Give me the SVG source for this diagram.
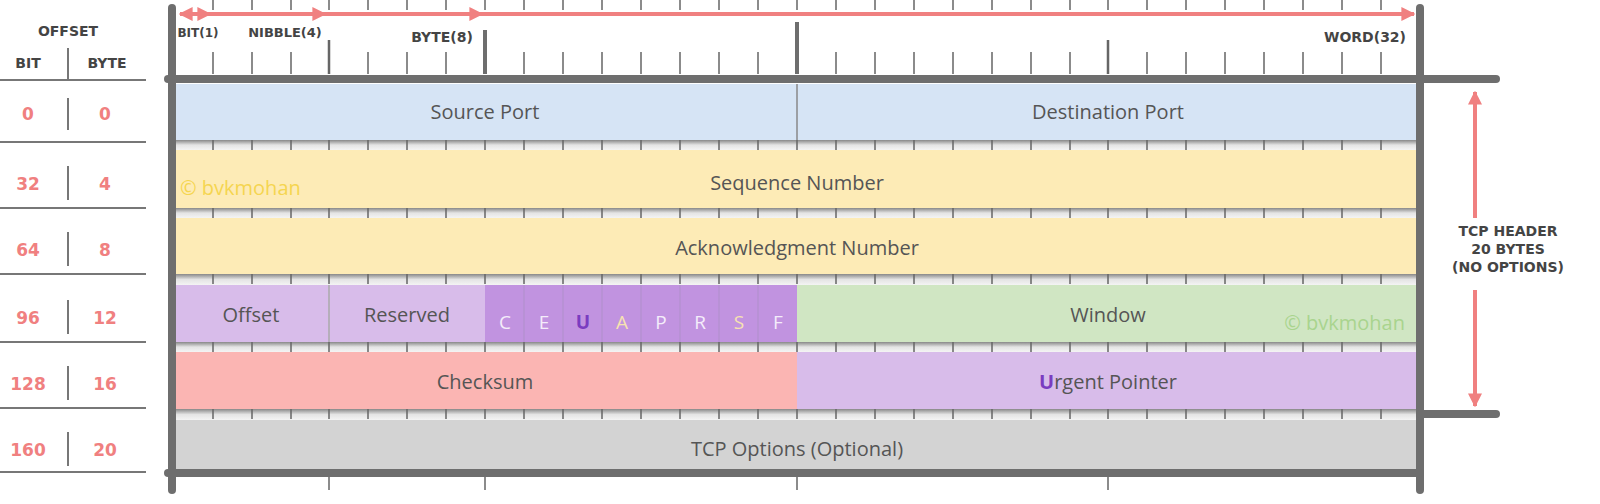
<svg xmlns="http://www.w3.org/2000/svg" width="1600" height="504" viewBox="0 0 1600 504">
<style>
.hd{font-family:"DejaVu Sans",sans-serif;font-weight:bold;fill:#444;font-size:14px;text-anchor:middle}
.num{font-family:"DejaVu Sans",sans-serif;font-weight:bold;fill:#f08080;font-size:17px;text-anchor:middle}
.lbl{font-family:"Open Sans","DejaVu Sans",sans-serif;fill:#555;font-size:20px;text-anchor:middle}
.flg{font-family:"Open Sans","DejaVu Sans",sans-serif;fill:#f4ecfa;font-size:19px;text-anchor:middle}
.wm{font-family:"Open Sans","DejaVu Sans",sans-serif;font-size:20px}
.bar{stroke:#6e6e6e;stroke-width:8;stroke-linecap:round}
.tbl{stroke:#777;stroke-width:2}
.tk{stroke:#666;stroke-width:1.5}
.pk{stroke:#f08080;stroke-width:4;fill:none}
</style>
<defs>
<linearGradient id="gap" x1="0" y1="0" x2="0" y2="1"><stop offset="0" stop-color="#888"/><stop offset="0.5" stop-color="#e4e4e4"/><stop offset="1" stop-color="#f4f4f4"/></linearGradient>
<marker id="ah" viewBox="0 0 10 10" refX="9" refY="5" markerWidth="3.5" markerHeight="3.5" orient="auto-start-reverse"><path d="M0,0L10,5L0,10z" fill="#f08080"/></marker>
</defs>
<rect width="1600" height="504" fill="#fff"/>
<g id="offset-table">
<text class="hd" x="68" y="36">OFFSET</text>
<text class="hd" x="28" y="68">BIT</text><text class="hd" x="107" y="68">BYTE</text>
<line class="tbl" x1="68" y1="48" x2="68" y2="80"/><line class="tbl" x1="0" y1="80" x2="146" y2="80"/>
<g>
<text class="num" x="28" y="120">0</text><text class="num" x="105" y="120">0</text>
<text class="num" x="28" y="190">32</text><text class="num" x="105" y="190">4</text>
<text class="num" x="28" y="256">64</text><text class="num" x="105" y="256">8</text>
<text class="num" x="28" y="324">96</text><text class="num" x="105" y="324">12</text>
<text class="num" x="28" y="390">128</text><text class="num" x="105" y="390">16</text>
<text class="num" x="28" y="456">160</text><text class="num" x="105" y="456">20</text>
</g>
<g class="tbl">
<line x1="68" y1="98" x2="68" y2="130"/><line x1="0" y1="142" x2="146" y2="142"/>
<line x1="68" y1="166" x2="68" y2="200"/><line x1="0" y1="208" x2="146" y2="208"/>
<line x1="68" y1="232" x2="68" y2="266"/><line x1="0" y1="274" x2="146" y2="274"/>
<line x1="68" y1="300" x2="68" y2="334"/><line x1="0" y1="342" x2="146" y2="342"/>
<line x1="68" y1="366" x2="68" y2="400"/><line x1="0" y1="408" x2="146" y2="408"/>
<line x1="68" y1="432" x2="68" y2="466"/><line x1="0" y1="472" x2="146" y2="472"/>
</g>
</g>
<g id="gaps">
<rect x="174" y="140" width="1244" height="10" fill="url(#gap)"/>
<rect x="174" y="208" width="1244" height="10" fill="url(#gap)"/>
<rect x="174" y="274" width="1244" height="11" fill="url(#gap)"/>
<rect x="174" y="342" width="1244" height="10" fill="url(#gap)"/>
<rect x="174" y="409" width="1244" height="11" fill="url(#gap)"/>
</g>
<g id="source-port"><rect x="174" y="84" width="623" height="56" fill="#d6e4f5"/><text class="lbl" x="485" y="119">Source Port</text></g>
<g id="destination-port"><rect x="797" y="84" width="621" height="56" fill="#d6e4f5"/><line x1="797" y1="84" x2="797" y2="140" stroke="#888" stroke-width="1.5"/><text class="lbl" x="1108" y="119">Destination Port</text></g>
<g id="sequence-number"><rect x="174" y="150" width="1244" height="58" fill="#fdebb6"/><text class="lbl" x="797" y="190">Sequence Number</text><text class="wm" x="180" y="195" fill="#f5d550">© bvkmohan</text></g>
<g id="ack-number"><rect x="174" y="218" width="1244" height="56" fill="#fdebb6"/><text class="lbl" x="797" y="255">Acknowledgment Number</text></g>
<g id="offset"><rect x="174" y="285" width="155" height="57" fill="#d8bcea"/><text class="lbl" x="251" y="322">Offset</text></g>
<g id="reserved"><rect x="329" y="285" width="156" height="57" fill="#d8bcea"/><line x1="329" y1="285" x2="329" y2="342" stroke="#aaa" stroke-width="1.5"/><text class="lbl" x="407" y="322">Reserved</text></g>
<g id="flags">
<rect x="485" y="285" width="312" height="57" fill="#c193e0"/>
<g stroke="#b590d2" stroke-width="1.5"><line x1="524" y1="285" x2="524" y2="342"/><line x1="563" y1="285" x2="563" y2="342"/><line x1="602" y1="285" x2="602" y2="342"/><line x1="641" y1="285" x2="641" y2="342"/><line x1="680" y1="285" x2="680" y2="342"/><line x1="719" y1="285" x2="719" y2="342"/><line x1="758" y1="285" x2="758" y2="342"/></g>
<text class="flg" x="505" y="329">C</text><text class="flg" x="544" y="329">E</text><text class="flg" x="583" y="329" style="fill:#7a3cc0;font-weight:bold">U</text><text class="flg" x="622" y="329" style="fill:#f7e2b0">A</text><text class="flg" x="661" y="329">P</text><text class="flg" x="700" y="329">R</text><text class="flg" x="739" y="329" style="fill:#f7e2b0">S</text><text class="flg" x="778" y="329">F</text>
</g>
<g id="window"><rect x="797" y="285" width="621" height="57" fill="#d0e6c3"/><text class="lbl" x="1108" y="322">Window</text><text class="wm" x="1405" y="330" fill="#a9d48e" text-anchor="end">© bvkmohan</text></g>
<g id="checksum"><rect x="174" y="352" width="623" height="57" fill="#fbb5b3"/><text class="lbl" x="485" y="389">Checksum</text></g>
<g id="urgent-pointer"><rect x="797" y="352" width="621" height="57" fill="#d8bcea"/><text class="lbl" x="1108" y="389"><tspan fill="#7a3cc0" font-weight="bold">U</tspan>rgent Pointer</text></g>
<g id="tcp-options"><rect x="174" y="420" width="1244" height="51" fill="#d3d3d3"/><text class="lbl" x="797" y="456">TCP Options (Optional)</text></g>
<g id="ticks" class="tk">
<path d="M213,52v22M252,52v22M291,52v22M368,52v22M407,52v22M446,52v22M524,52v22M563,52v22M602,52v22M641,52v22M680,52v22M719,52v22M758,52v22M836,52v22M875,52v22M914,52v22M953,52v22M992,52v22M1031,52v22M1070,52v22M1147,52v22M1186,52v22M1225,52v22M1264,52v22M1303,52v22M1342,52v22M1381,52v22"/>
<path d="M329,40v34M1108,40v34" stroke-width="2.5"/>
<path d="M485,30v44M797,22v52" stroke="#6e6e6e" stroke-width="4"/>
</g>
<g id="gap-ticks" stroke="#666" stroke-width="1.5">
<path id="gt" d="M213,0v10M252,0v10M291,0v10M329,0v10M368,0v10M407,0v10M446,0v10M485,0v10M524,0v10M563,0v10M602,0v10M641,0v10M680,0v10M719,0v10M758,0v10M797,0v10M836,0v10M875,0v10M914,0v10M953,0v10M992,0v10M1031,0v10M1070,0v10M1108,0v10M1147,0v10M1186,0v10M1225,0v10M1264,0v10M1303,0v10M1342,0v10M1381,0v10"/>
<use href="#gt" y="140"/><use href="#gt" y="208"/><use href="#gt" y="274"/><use href="#gt" y="342"/><use href="#gt" y="409"/>
<path d="M329,476v14M485,476v14M797,476v14M1108,476v14"/>
</g>
<g id="frame" class="bar">
<line x1="172" y1="8" x2="172" y2="490"/>
<line x1="1420" y1="8" x2="1420" y2="490"/>
<line x1="168" y1="79" x2="1496" y2="79"/>
<line x1="168" y1="473" x2="1420" y2="473"/>
<line x1="1420" y1="414" x2="1496" y2="414"/>
</g>
<g id="connectors">
<line class="pk" x1="180" y1="14" x2="1414" y2="14" marker-start="url(#ah)" marker-end="url(#ah)"/>
<line class="pk" x1="195" y1="14" x2="210" y2="14" marker-end="url(#ah)"/>
<line class="pk" x1="300" y1="14" x2="325" y2="14" marker-end="url(#ah)"/>
<line class="pk" x1="460" y1="14" x2="482" y2="14" marker-end="url(#ah)"/>
<line class="pk" x1="1475" y1="92" x2="1475" y2="218" marker-start="url(#ah)"/>
<line class="pk" x1="1475" y1="290" x2="1475" y2="406" marker-end="url(#ah)"/>
</g>
<g id="scale-labels">
<text class="hd" x="198" y="37" style="font-size:12px">BIT(1)</text>
<text class="hd" x="285" y="37" style="font-size:13px">NIBBLE(4)</text>
<text class="hd" x="442" y="42">BYTE(8)</text>
<text class="hd" x="1365" y="42">WORD(32)</text>
</g>
<g id="header-size">
<text class="hd" x="1508" y="236">TCP HEADER</text>
<text class="hd" x="1508" y="254">20 BYTES</text>
<text class="hd" x="1508" y="272">(NO OPTIONS)</text>
</g>
</svg>
